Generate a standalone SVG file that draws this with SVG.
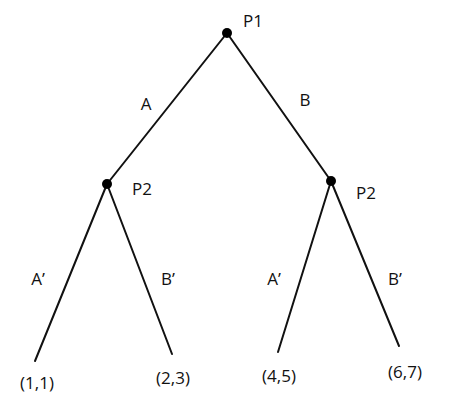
<svg xmlns="http://www.w3.org/2000/svg" width="450" height="401" viewBox="0 0 450 401">
<style>
.e{stroke:#111;stroke-width:2;fill:none;stroke-linecap:round}
.d{fill:#000}
text{font-family:"Open Sans","Liberation Sans",sans-serif;font-size:17px;fill:#111}
</style>
<rect width="450" height="401" fill="#fff"/>
<g id="connectors">
<line class="e" x1="227" y1="33" x2="107" y2="184"/>
<line class="e" x1="227" y1="33" x2="331" y2="181"/>
<line class="e" x1="107" y1="184" x2="35" y2="361"/>
<line class="e" x1="107" y1="184" x2="172" y2="354"/>
<line class="e" x1="331" y1="181" x2="278" y2="352"/>
<line class="e" x1="331" y1="181" x2="399" y2="346"/>
<text x="146" y="110" text-anchor="middle">A</text>
<text x="305" y="106" text-anchor="middle">B</text>
<text x="38" y="285" text-anchor="middle">A’</text>
<text x="168" y="285" text-anchor="middle">B’</text>
<text x="274" y="285" text-anchor="middle">A’</text>
<text x="395" y="285" text-anchor="middle">B’</text>
</g>
<g id="p1"><circle class="d" cx="227" cy="33" r="5"/><text x="243" y="27">P1</text></g>
<g id="p2a"><circle class="d" cx="107" cy="184" r="5"/><text x="132" y="195">P2</text></g>
<g id="p2b"><circle class="d" cx="331" cy="181" r="5"/><text x="356" y="199">P2</text></g>
<g id="leaf1"><text x="37" y="389" text-anchor="middle">(1,1)</text></g>
<g id="leaf2"><text x="173" y="384" text-anchor="middle">(2,3)</text></g>
<g id="leaf3"><text x="279" y="382" text-anchor="middle">(4,5)</text></g>
<g id="leaf4"><text x="405" y="378" text-anchor="middle">(6,7)</text></g>
</svg>
